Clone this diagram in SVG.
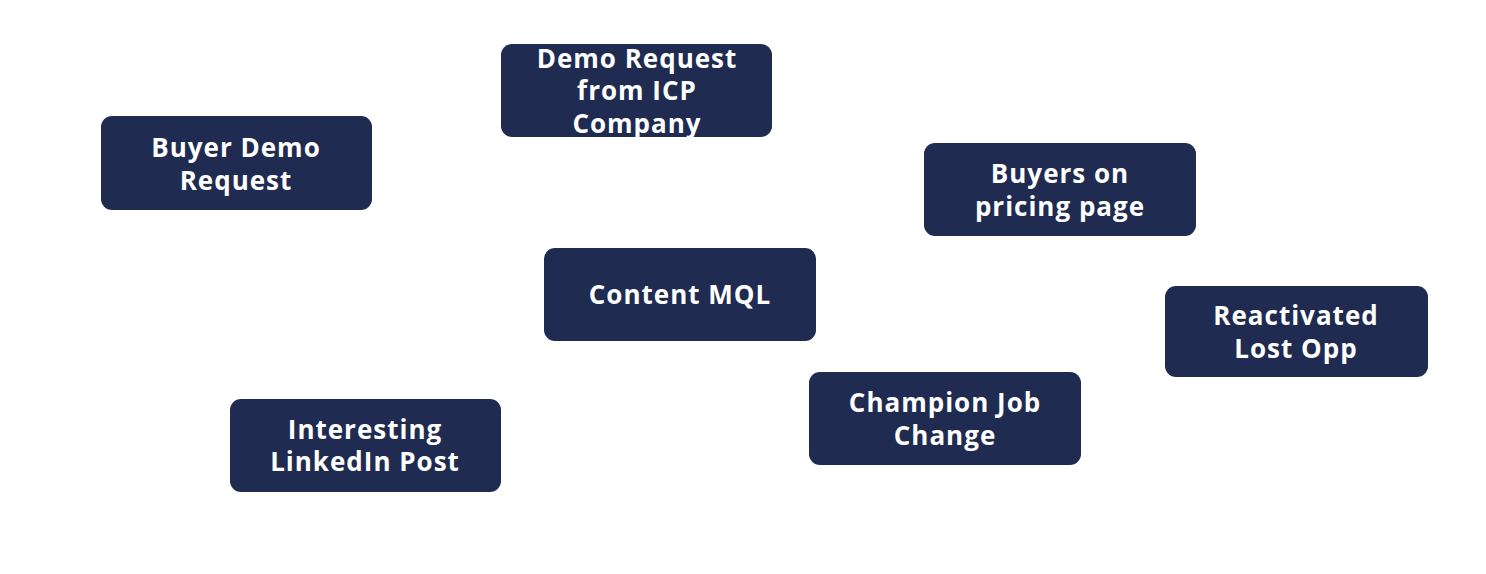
<svg xmlns="http://www.w3.org/2000/svg" width="1486" height="574" viewBox="0 0 1486 574">
<style>
.box{fill:#1f2b50;}
.t{font-family:"Open Sans","Noto Sans",sans-serif;font-weight:700;font-size:26px;letter-spacing:1px;fill:#ffffff;text-anchor:middle;}
</style>
<rect width="1486" height="574" fill="#ffffff"/>
<g id="connectors"></g>
<g id="demo-request-icp"><rect class="box" x="501" y="44" width="271" height="93" rx="11"/><text class="t" x="637" y="68">Demo Request</text><text class="t" x="637" y="100">from ICP</text><text class="t" x="637" y="133">Company</text></g>
<g id="buyer-demo"><rect class="box" x="101" y="116" width="271" height="94" rx="11"/><text class="t" x="236" y="157">Buyer Demo</text><text class="t" x="236" y="190">Request</text></g>
<g id="pricing"><rect class="box" x="924" y="143" width="272" height="93" rx="11"/><text class="t" x="1060" y="183">Buyers on</text><text class="t" x="1060" y="216">pricing page</text></g>
<g id="content-mql"><rect class="box" x="544" y="248" width="272" height="93" rx="11"/><text class="t" x="680" y="304">Content MQL</text></g>
<g id="reactivated"><rect class="box" x="1165" y="286" width="263" height="91" rx="11"/><text class="t" x="1296" y="325">Reactivated</text><text class="t" x="1296" y="358">Lost Opp</text></g>
<g id="champion"><rect class="box" x="809" y="372" width="272" height="93" rx="11"/><text class="t" x="945" y="412">Champion Job</text><text class="t" x="945" y="445">Change</text></g>
<g id="linkedin"><rect class="box" x="230" y="399" width="271" height="93" rx="11"/><text class="t" x="365" y="439">Interesting</text><text class="t" x="365" y="471">LinkedIn Post</text></g>
</svg>
